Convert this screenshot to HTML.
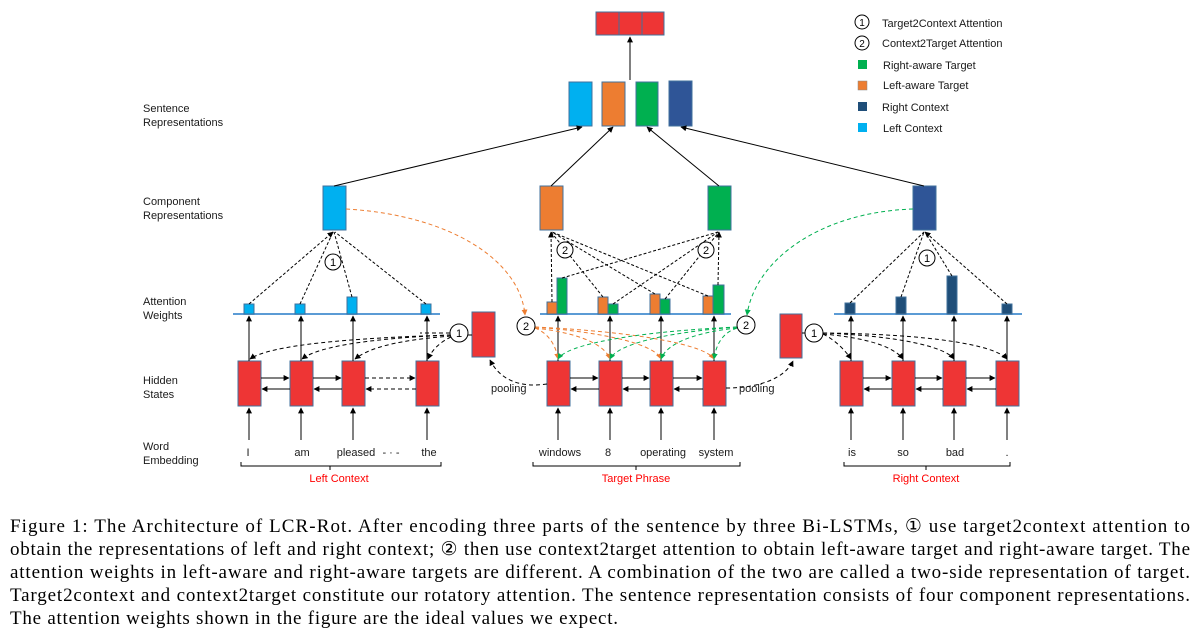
<!DOCTYPE html>
<html><head><meta charset="utf-8"><style>
html,body{margin:0;padding:0;background:#fff;}
svg{display:block;}
</style></head><body>
<svg width="1201" height="643" viewBox="0 0 1201 643" xmlns="http://www.w3.org/2000/svg" font-family="Liberation Sans, sans-serif">
<defs>
<marker id="a" viewBox="0 0 10 10" refX="9" refY="5" markerWidth="6" markerHeight="6" orient="auto"><path d="M0,0 L10,5 L0,10 z" fill="#000"/></marker>
<marker id="ao" viewBox="0 0 10 10" refX="9" refY="5" markerWidth="6" markerHeight="6" orient="auto"><path d="M0,0 L10,5 L0,10 z" fill="#ed7d31"/></marker>
<marker id="ag" viewBox="0 0 10 10" refX="9" refY="5" markerWidth="6" markerHeight="6" orient="auto"><path d="M0,0 L10,5 L0,10 z" fill="#00b050"/></marker>
</defs>
<g stroke="#41719c" stroke-width="1">
<rect x="596" y="12" width="23" height="23" fill="#ee3535"/><rect x="619" y="12" width="23" height="23" fill="#ee3535"/><rect x="642" y="12" width="22" height="23" fill="#ee3535"/>
<rect x="569" y="82" width="23" height="44" fill="#00b0f0"/>
<rect x="602" y="82" width="23" height="44" fill="#ed7d31"/>
<rect x="636" y="82" width="22" height="44" fill="#00b050"/>
<rect x="669" y="81" width="23" height="45" fill="#2f5597"/>
<rect x="323" y="186" width="23" height="44" fill="#00b0f0"/>
<rect x="540" y="186" width="23" height="44" fill="#ed7d31"/>
<rect x="708" y="186" width="23" height="44" fill="#00b050"/>
<rect x="913" y="186" width="23" height="44" fill="#2f5597"/>
</g>
<g stroke="#000" stroke-width="1" fill="none">
<line x1="630" y1="80" x2="630" y2="37" marker-end="url(#a)"/>
<line x1="334" y1="186" x2="582" y2="127" marker-end="url(#a)"/>
<line x1="551" y1="186" x2="613" y2="127" marker-end="url(#a)"/>
<line x1="719" y1="186" x2="647" y2="127" marker-end="url(#a)"/>
<line x1="924" y1="186" x2="681" y2="127" marker-end="url(#a)"/>
</g>
<g stroke="#5b9bd5" stroke-width="2">
<line x1="233" y1="314" x2="440" y2="314"/><line x1="540" y1="314" x2="731" y2="314"/><line x1="834" y1="314" x2="1022" y2="314"/>
</g>
<g stroke="#41719c" stroke-width="1">
<rect x="244" y="304" width="10" height="10" fill="#00b0f0"/><rect x="295" y="304" width="10" height="10" fill="#00b0f0"/><rect x="347" y="297" width="10" height="17" fill="#00b0f0"/><rect x="421" y="304" width="10" height="10" fill="#00b0f0"/>
<rect x="547" y="302" width="10" height="12" fill="#ed7d31"/><rect x="557" y="278" width="10" height="36" fill="#00b050"/>
<rect x="598" y="297" width="10" height="17" fill="#ed7d31"/><rect x="608" y="304" width="10" height="10" fill="#00b050"/>
<rect x="650" y="294" width="10" height="20" fill="#ed7d31"/><rect x="660" y="299" width="10" height="15" fill="#00b050"/>
<rect x="703" y="296" width="10" height="18" fill="#ed7d31"/><rect x="713" y="285" width="11" height="29" fill="#00b050"/>
<rect x="845" y="303" width="10" height="11" fill="#1f4e79"/><rect x="896" y="297" width="10" height="17" fill="#1f4e79"/><rect x="947" y="276" width="10" height="38" fill="#1f4e79"/><rect x="1002" y="304" width="10" height="10" fill="#1f4e79"/>
</g>
<g stroke="#000" stroke-width="1" stroke-dasharray="3,2" fill="none">
<line x1="249" y1="304" x2="333" y2="232" marker-end="url(#a)"/><line x1="300" y1="304" x2="333" y2="232"/><line x1="352" y1="297" x2="334" y2="232"/><line x1="426" y1="304" x2="335" y2="232"/>
<line x1="552" y1="302" x2="551" y2="232" marker-end="url(#a)"/><line x1="603" y1="297" x2="551" y2="232"/><line x1="655" y1="294" x2="552" y2="232"/><line x1="708" y1="296" x2="552" y2="232"/>
<line x1="562" y1="278" x2="718" y2="232"/><line x1="613" y1="304" x2="718" y2="232"/><line x1="665" y1="299" x2="719" y2="232"/><line x1="718" y1="285" x2="719" y2="232" marker-end="url(#a)"/>
<line x1="850" y1="303" x2="924" y2="232"/><line x1="901" y1="297" x2="924" y2="232"/><line x1="952" y1="276" x2="925" y2="232"/><line x1="1007" y1="304" x2="925" y2="232" marker-end="url(#a)"/>
</g>
<g stroke="#41719c" stroke-width="1" fill="#ee3535">
<rect x="238" y="361" width="23" height="45"/><rect x="290" y="361" width="23" height="45"/><rect x="342" y="361" width="23" height="45"/><rect x="416" y="361" width="23" height="45"/>
<rect x="547" y="361" width="23" height="45"/><rect x="599" y="361" width="23" height="45"/><rect x="650" y="361" width="23" height="45"/><rect x="703" y="361" width="23" height="45"/>
<rect x="840" y="361" width="23" height="45"/><rect x="892" y="361" width="23" height="45"/><rect x="943" y="361" width="23" height="45"/><rect x="996" y="361" width="23" height="45"/>
<rect x="472" y="312" width="23" height="45"/><rect x="780" y="314" width="22" height="44"/>
</g>
<g stroke="#000" stroke-width="1" fill="none">
<line x1="249" y1="361" x2="249" y2="316" marker-end="url(#a)"/><line x1="301" y1="361" x2="301" y2="316" marker-end="url(#a)"/><line x1="353" y1="361" x2="353" y2="316" marker-end="url(#a)"/><line x1="427" y1="361" x2="427" y2="316" marker-end="url(#a)"/>
<line x1="558" y1="361" x2="558" y2="316" marker-end="url(#a)"/><line x1="610" y1="361" x2="610" y2="316" marker-end="url(#a)"/><line x1="661" y1="361" x2="661" y2="316" marker-end="url(#a)"/><line x1="714" y1="361" x2="714" y2="316" marker-end="url(#a)"/>
<line x1="851" y1="361" x2="851" y2="316" marker-end="url(#a)"/><line x1="903" y1="361" x2="903" y2="316" marker-end="url(#a)"/><line x1="954" y1="361" x2="954" y2="316" marker-end="url(#a)"/><line x1="1007" y1="361" x2="1007" y2="316" marker-end="url(#a)"/>
<line x1="249" y1="440" x2="249" y2="408" marker-end="url(#a)"/><line x1="301" y1="440" x2="301" y2="408" marker-end="url(#a)"/><line x1="353" y1="440" x2="353" y2="408" marker-end="url(#a)"/><line x1="427" y1="440" x2="427" y2="408" marker-end="url(#a)"/>
<line x1="558" y1="440" x2="558" y2="408" marker-end="url(#a)"/><line x1="610" y1="440" x2="610" y2="408" marker-end="url(#a)"/><line x1="661" y1="440" x2="661" y2="408" marker-end="url(#a)"/><line x1="714" y1="440" x2="714" y2="408" marker-end="url(#a)"/>
<line x1="851" y1="440" x2="851" y2="408" marker-end="url(#a)"/><line x1="903" y1="440" x2="903" y2="408" marker-end="url(#a)"/><line x1="954" y1="440" x2="954" y2="408" marker-end="url(#a)"/><line x1="1007" y1="440" x2="1007" y2="408" marker-end="url(#a)"/>
<line x1="261" y1="378" x2="289" y2="378" marker-end="url(#a)"/><line x1="290" y1="389" x2="262" y2="389" marker-end="url(#a)"/>
<line x1="313" y1="378" x2="341" y2="378" marker-end="url(#a)"/><line x1="342" y1="389" x2="314" y2="389" marker-end="url(#a)"/>
<line x1="365" y1="378" x2="415" y2="378" stroke-dasharray="4,3" marker-end="url(#a)"/><line x1="416" y1="389" x2="366" y2="389" stroke-dasharray="4,3" marker-end="url(#a)"/>
<line x1="570" y1="378" x2="598" y2="378" marker-end="url(#a)"/><line x1="599" y1="389" x2="571" y2="389" marker-end="url(#a)"/>
<line x1="622" y1="378" x2="649" y2="378" marker-end="url(#a)"/><line x1="650" y1="389" x2="623" y2="389" marker-end="url(#a)"/>
<line x1="673" y1="378" x2="702" y2="378" marker-end="url(#a)"/><line x1="703" y1="389" x2="674" y2="389" marker-end="url(#a)"/>
<line x1="863" y1="378" x2="891" y2="378" marker-end="url(#a)"/><line x1="892" y1="389" x2="864" y2="389" marker-end="url(#a)"/>
<line x1="915" y1="378" x2="942" y2="378" marker-end="url(#a)"/><line x1="943" y1="389" x2="916" y2="389" marker-end="url(#a)"/>
<line x1="966" y1="378" x2="995" y2="378" marker-end="url(#a)"/><line x1="996" y1="389" x2="967" y2="389" marker-end="url(#a)"/>
<g stroke-dasharray="4,3">
<line x1="450" y1="333" x2="420" y2="333"/><line x1="468" y1="335" x2="472" y2="335"/>
<path d="M451,335 C350,338 270,345 250,359" marker-end="url(#a)"/>
<path d="M451,335 C380,338 320,345 302,359" marker-end="url(#a)"/>
<path d="M451,336 C400,340 370,347 355,359" marker-end="url(#a)"/>
<path d="M451,337 C440,342 432,350 428,359" marker-end="url(#a)"/>
<path d="M823,334 C835,340 845,350 851,359" marker-end="url(#a)"/>
<path d="M823,334 C870,338 895,348 903,359" marker-end="url(#a)"/>
<path d="M823,333 C900,336 945,347 954,359" marker-end="url(#a)"/>
<path d="M823,333 C930,334 995,345 1007,359" marker-end="url(#a)"/>
<line x1="802" y1="333" x2="805" y2="333"/>
<path d="M547,384 C520,388 500,380 490,360" marker-end="url(#a)"/>
<path d="M726,388 C760,388 785,378 793,361" marker-end="url(#a)"/>
</g>
</g>
<g stroke="#ed7d31" stroke-width="1" stroke-dasharray="4,3" fill="none">
<path d="M346,209 C450,215 520,260 525,315" marker-end="url(#ao)"/>
<path d="M535,328 C548,333 556,345 558,359" marker-end="url(#ao)"/>
<path d="M535,328 C580,333 605,345 610,359" marker-end="url(#ao)"/>
<path d="M535,327 C610,333 655,345 661,359" marker-end="url(#ao)"/>
<path d="M535,327 C640,332 705,345 714,359" marker-end="url(#ao)"/>
</g>
<g stroke="#00b050" stroke-width="1" stroke-dasharray="4,3" fill="none">
<path d="M913,209 C820,212 755,260 747,315" marker-end="url(#ag)"/>
<path d="M737,328 C722,333 716,345 714,359" marker-end="url(#ag)"/>
<path d="M737,328 C690,333 666,345 661,359" marker-end="url(#ag)"/>
<path d="M737,327 C660,333 617,345 610,359" marker-end="url(#ag)"/>
<path d="M737,327 C630,332 566,345 558,359" marker-end="url(#ag)"/>
</g>
<g stroke="#000" stroke-width="1" fill="#fff" font-size="11">
<circle cx="333" cy="262" r="8"/><circle cx="565" cy="250" r="8"/><circle cx="706" cy="250" r="8"/><circle cx="927" cy="258" r="8"/>
<circle cx="459" cy="333" r="9"/><circle cx="814" cy="333" r="9"/><circle cx="526" cy="326" r="9"/><circle cx="746" cy="325" r="9"/>
<circle cx="862" cy="22" r="7"/><circle cx="862" cy="43" r="7"/>
</g>
<g font-size="11" fill="#000" text-anchor="middle">
<text x="333" y="266">1</text><text x="565" y="254">2</text><text x="706" y="254">2</text><text x="927" y="262">1</text>
<text x="459" y="337">1</text><text x="814" y="337">1</text><text x="526" y="330">2</text><text x="746" y="329">2</text>
<text x="862" y="26" font-size="10">1</text><text x="862" y="47" font-size="10">2</text>
</g>
<rect x="858" y="60" width="9" height="9" fill="#00b050"/>
<rect x="858" y="81" width="9" height="9" fill="#ed7d31" stroke="#888" stroke-width="0.5"/>
<rect x="858" y="102" width="9" height="9" fill="#1f4e79"/>
<rect x="858" y="123" width="9" height="9" fill="#00b0f0"/>
<g font-size="11" fill="#1a1a1a">
<text x="882" y="27">Target2Context Attention</text>
<text x="882" y="47">Context2Target Attention</text>
<text x="883" y="69">Right-aware Target</text>
<text x="883" y="89">Left-aware Target</text>
<text x="882" y="111">Right Context</text>
<text x="883" y="132">Left Context</text>
<text x="143" y="112">Sentence</text><text x="143" y="126">Representations</text>
<text x="143" y="205">Component</text><text x="143" y="219">Representations</text>
<text x="143" y="305">Attention</text><text x="143" y="319">Weights</text>
<text x="143" y="384">Hidden</text><text x="143" y="398">States</text>
<text x="143" y="450">Word</text><text x="143" y="464">Embedding</text>
<text x="491" y="392">pooling</text><text x="739" y="392">pooling</text>
</g>
<g font-size="11" fill="#1a1a1a" text-anchor="middle">
<text x="248" y="456">I</text><text x="302" y="456">am</text><text x="356" y="456">pleased</text><text x="391" y="456">- · -</text><text x="429" y="456">the</text>
<text x="560" y="456">windows</text><text x="608" y="456">8</text><text x="663" y="456">operating</text><text x="716" y="456">system</text>
<text x="852" y="456">is</text><text x="903" y="456">so</text><text x="955" y="456">bad</text><text x="1007" y="456">.</text>
</g>
<g font-size="11" fill="#ff0000" text-anchor="middle">
<text x="339" y="482">Left Context</text><text x="636" y="482">Target Phrase</text><text x="926" y="482">Right Context</text>
</g>
<g stroke="#000" stroke-width="1" fill="none">
<path d="M241,462 v4 h200 v-4 M330,466 v4"/>
<path d="M533,462 v4 h207 v-4 M636,466 v4"/>
<path d="M844,462 v4 h166 v-4 M926,466 v4"/>
</g>
<g font-family="Liberation Serif, serif" font-size="19" fill="#000">
<text x="10" y="532" textLength="1180" lengthAdjust="spacing">Figure 1: The Architecture of LCR-Rot.  After encoding three parts of the sentence by three Bi-LSTMs, ① use target2context attention to</text>
<text x="10" y="555" textLength="1180" lengthAdjust="spacing">obtain the representations of left and right context; ② then use context2target attention to obtain left-aware target and right-aware target. The</text>
<text x="10" y="578" textLength="1180" lengthAdjust="spacing">attention weights in left-aware and right-aware targets are different. A combination of the two are called a two-side representation of target.</text>
<text x="10" y="601" textLength="1180" lengthAdjust="spacing">Target2context and context2target constitute our rotatory attention. The sentence representation consists of four component representations.</text>
<text x="10" y="624" textLength="608" lengthAdjust="spacing">The attention weights shown in the figure are the ideal values we expect.</text>
</g>
</svg>
</body></html>
